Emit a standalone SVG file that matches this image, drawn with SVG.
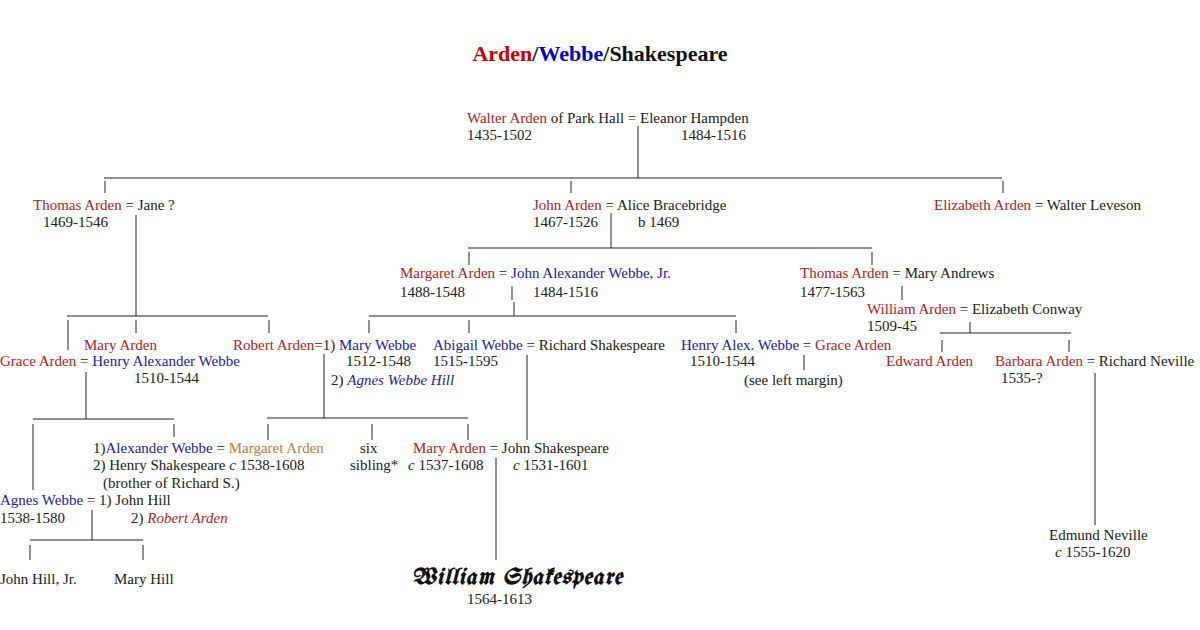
<svg xmlns="http://www.w3.org/2000/svg" width="1200" height="630" viewBox="0 0 1200 630">
<style>
text{font-family:"Liberation Serif","DejaVu Serif",serif;font-size:15px;fill:#222}
.r{fill:#b22222}.b{fill:#1c1ca8}.o{fill:#c8783c}.i{font-style:italic}
.t{font-size:22px;font-weight:bold}
.ws{font-family:"UnifrakturMaguntia","Liberation Serif",serif;font-size:23px;font-weight:bold;font-style:italic;fill:#111;letter-spacing:1px}
#conn line{stroke:#222;stroke-width:1}
</style>
<rect width="1200" height="630" fill="#fff"/>
<text class="t" x="600" y="61" text-anchor="middle"><tspan fill="#cc0000">Arden</tspan><tspan fill="#111">/</tspan><tspan fill="#0000cc">Webbe</tspan><tspan fill="#111">/Shakespeare</tspan></text>
<g id="conn">
<line x1="638" y1="126" x2="638" y2="178"/>
<line x1="104" y1="178" x2="1002" y2="178"/>
<line x1="105" y1="181" x2="105" y2="193"/>
<line x1="571" y1="181" x2="571" y2="193"/>
<line x1="1003" y1="181" x2="1003" y2="193"/>
<line x1="136" y1="215" x2="136" y2="316"/>
<line x1="67" y1="316" x2="268" y2="316"/>
<line x1="68" y1="320" x2="68" y2="350"/>
<line x1="136" y1="320" x2="136" y2="333"/>
<line x1="269" y1="320" x2="269" y2="333"/>
<line x1="86" y1="372" x2="86" y2="419"/>
<line x1="33" y1="419" x2="174" y2="419"/>
<line x1="33" y1="424" x2="33" y2="490"/>
<line x1="174" y1="424" x2="174" y2="437"/>
<line x1="92" y1="510" x2="92" y2="540"/>
<line x1="30" y1="540" x2="143" y2="540"/>
<line x1="30" y1="545" x2="30" y2="560"/>
<line x1="143" y1="545" x2="143" y2="560"/>
<line x1="611" y1="213" x2="611" y2="248"/>
<line x1="468" y1="248" x2="872" y2="248"/>
<line x1="469" y1="252" x2="469" y2="265"/>
<line x1="872" y1="252" x2="872" y2="265"/>
<line x1="512" y1="286" x2="512" y2="300" style="stroke:#1c1ca8"/>
<line x1="514" y1="302" x2="514" y2="316"/>
<line x1="369" y1="316" x2="736" y2="316"/>
<line x1="369" y1="320" x2="369" y2="333"/>
<line x1="469" y1="320" x2="469" y2="333"/>
<line x1="736" y1="320" x2="736" y2="333"/>
<line x1="324" y1="354" x2="324" y2="418"/>
<line x1="267" y1="418" x2="468" y2="418"/>
<line x1="268" y1="424" x2="268" y2="440"/>
<line x1="372" y1="424" x2="372" y2="440"/>
<line x1="468" y1="424" x2="468" y2="440"/>
<line x1="527" y1="355" x2="527" y2="440"/>
<line x1="496" y1="458" x2="496" y2="560"/>
<line x1="804" y1="355" x2="804" y2="370"/>
<line x1="902" y1="286" x2="902" y2="300"/>
<line x1="940" y1="333" x2="1071" y2="333"/>
<line x1="970" y1="322" x2="970" y2="333"/>
<line x1="942" y1="340" x2="942" y2="352"/>
<line x1="1069" y1="340" x2="1069" y2="352"/>
<line x1="1095" y1="373" x2="1095" y2="525"/>
</g>
<g id="walter"><text x="467" y="123"><tspan class="r">Walter Arden</tspan> of Park Hall = Eleanor Hampden</text><text x="467" y="140">1435-1502</text><text x="681" y="140">1484-1516</text></g>
<g id="thomas1"><text x="33" y="210"><tspan class="r">Thomas Arden</tspan> = Jane ?</text><text x="43" y="227">1469-1546</text></g>
<g id="john"><text x="533" y="210"><tspan class="r">John Arden</tspan> = Alice Bracebridge</text><text x="533" y="227">1467-1526</text><text x="638" y="227">b 1469</text></g>
<g id="elizabeth"><text x="934" y="210"><tspan class="r">Elizabeth Arden</tspan> = Walter Leveson</text></g>
<g id="maryarden1"><text x="84" y="350" class="r">Mary Arden</text></g>
<g id="grace"><text x="0" y="366"><tspan class="r">Grace Arden</tspan> = <tspan class="b">Henry Alexander Webbe</tspan></text><text x="134" y="383">1510-1544</text></g>
<g id="alexander"><text x="93" y="453">1)<tspan class="b">Alexander Webbe</tspan> = <tspan class="o">Margaret Arden</tspan></text><text x="93" y="470">2) Henry Shakespeare  <tspan class="i">c</tspan> 1538-1608</text><text x="103" y="488">(brother of Richard S.)</text></g>
<g id="agnes"><text x="0" y="505"><tspan class="b">Agnes Webbe</tspan> = 1) John Hill</text><text x="0" y="523">1538-1580</text><text x="131" y="523">2) <tspan class="r i">Robert Arden</tspan></text></g>
<g id="hills"><text x="0" y="584">John Hill, Jr.</text><text x="114" y="584">Mary Hill</text></g>
<g id="margaret"><text x="400" y="278"><tspan class="r">Margaret Arden</tspan> = <tspan class="b">John Alexander Webbe, Jr.</tspan></text><text x="400" y="297">1488-1548</text><text x="533" y="297">1484-1516</text></g>
<g id="robert"><text x="233" y="350"><tspan class="r">Robert Arden</tspan>=1) <tspan class="b">Mary Webbe</tspan></text><text x="346" y="366">1512-1548</text><text x="331" y="385">2) <tspan class="b i">Agnes Webbe Hill</tspan></text></g>
<g id="abigail"><text x="433" y="350"><tspan class="b">Abigail Webbe</tspan> = Richard Shakespeare</text><text x="433" y="366">1515-1595</text></g>
<g id="six"><text x="360" y="453">six</text><text x="350" y="470">sibling*</text></g>
<g id="maryarden2"><text x="413" y="453"><tspan class="r">Mary Arden</tspan> = John Shakespeare</text><text x="408" y="470"><tspan class="i">c</tspan> 1537-1608</text><text x="513" y="470"><tspan class="i">c</tspan> 1531-1601</text></g>
<g id="william"><text class="ws" x="517" y="584" text-anchor="middle">William Shakespeare</text><text x="467" y="604">1564-1613</text></g>
<g id="henryalex"><text x="681" y="350"><tspan class="b">Henry Alex. Webbe</tspan> = <tspan class="r">Grace Arden</tspan></text><text x="690" y="366">1510-1544</text><text x="744" y="385">(see left margin)</text></g>
<g id="thomas2"><text x="800" y="278"><tspan class="r">Thomas Arden</tspan> = Mary Andrews</text><text x="800" y="297">1477-1563</text></g>
<g id="williamarden"><text x="867" y="314"><tspan class="r">William Arden</tspan> = Elizabeth Conway</text><text x="867" y="331">1509-45</text></g>
<g id="edward"><text x="886" y="366" class="r">Edward Arden</text></g>
<g id="barbara"><text x="995" y="366"><tspan class="r">Barbara Arden</tspan> = Richard Neville</text><text x="1001" y="383">1535-?</text></g>
<g id="edmund"><text x="1049" y="540">Edmund Neville</text><text x="1055" y="557"><tspan class="i">c</tspan> 1555-1620</text></g>
</svg>
